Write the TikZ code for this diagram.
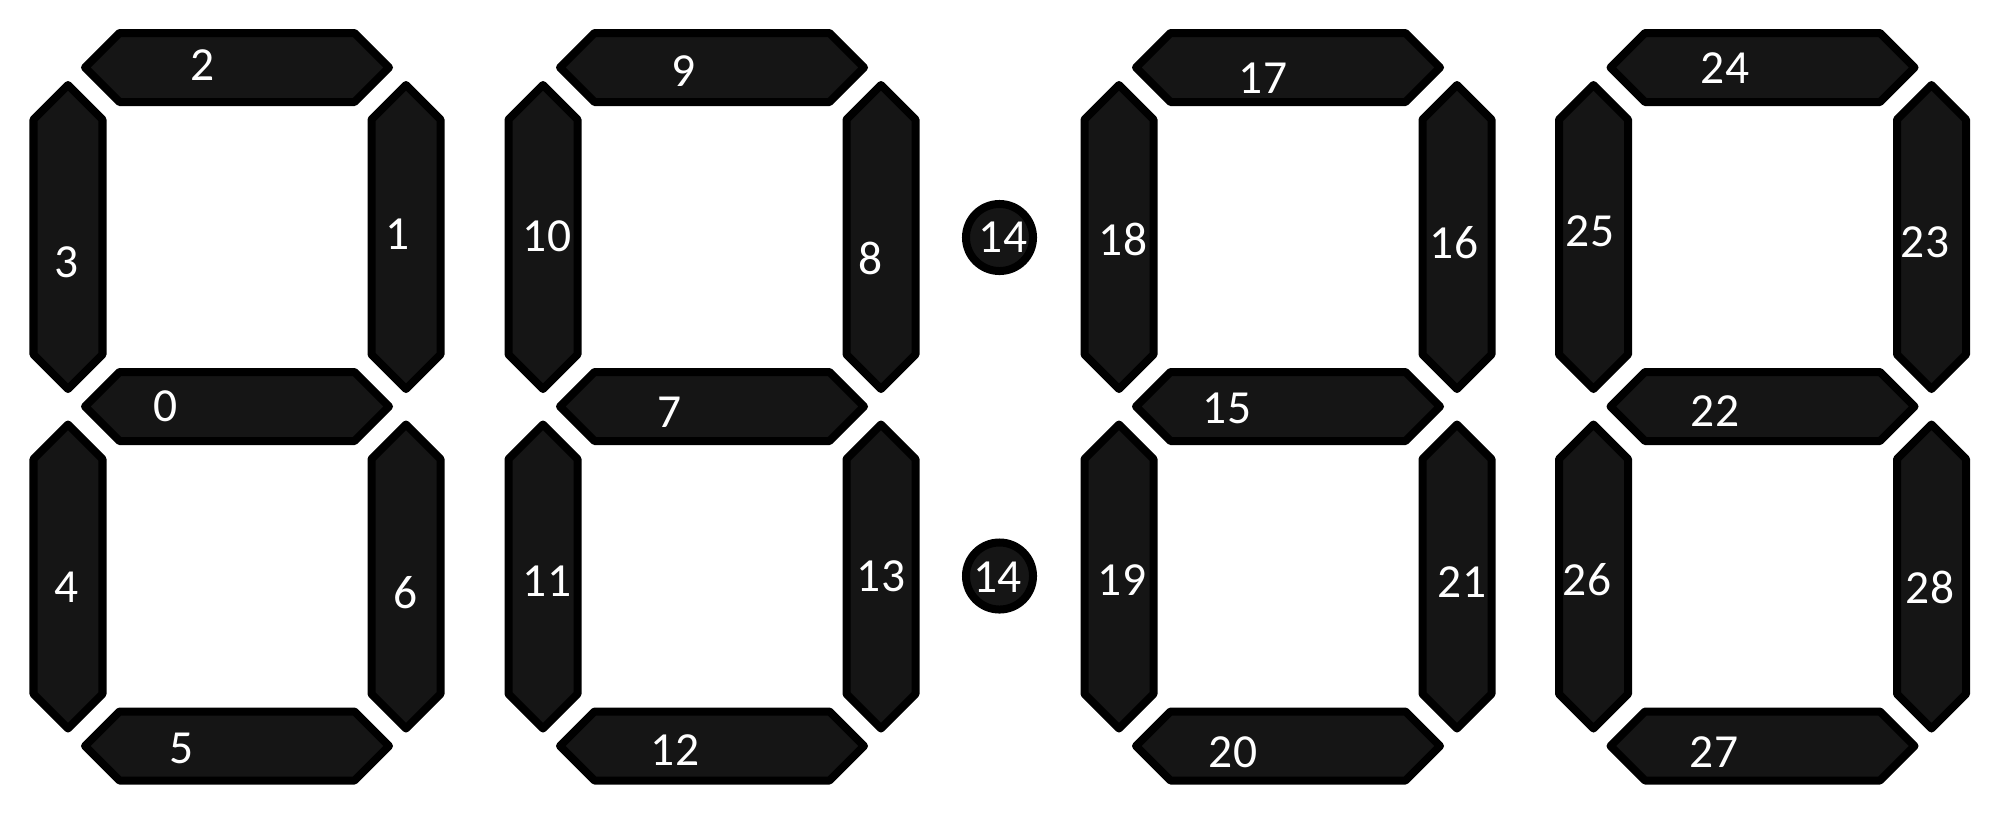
\documentclass[tikz,border=0pt]{standalone}
\usepackage{fontspec}
\setmainfont{Carlito}
\definecolor{segfill}{HTML}{151515}
\tikzset{
  seg/.style={draw=black, fill=segfill, line width=0.08cm, line join=round},
  dotc/.style={circle, draw=black, fill=segfill, line width=0.08cm, minimum size=0.67cm, inner sep=0pt},
  lab/.style={text=white, anchor=base, inner sep=0pt, font=\fontsize{13.5}{16}\selectfont},
  hseg/.pic={\path[seg] (-152,0) -- (-117.5,-34.5) -- (117.5,-34.5) -- (152,0) -- (117.5,34.5) -- (-117.5,34.5) -- cycle;},
  vseg/.pic={\path[seg] (0,-152) -- (34.5,-117.5) -- (34.5,117.5) -- (0,152) -- (-34.5,117.5) -- (-34.5,-117.5) -- cycle;},
}
\begin{document}
\begin{tikzpicture}[x=0.01cm,y=-0.01cm]
\path[use as bounding box, fill=white] (0,0) rectangle (2000,814);
\foreach \cx in {237,712,1288,1762.5}{
  \pic at (\cx,67.5) {hseg};
  \pic at (\cx,406.5) {hseg};
  \pic at (\cx,746) {hseg};
  \pic at (\cx-169,237) {vseg};
  \pic at (\cx+169,237) {vseg};
  \pic at (\cx-169,576.5) {vseg};
  \pic at (\cx+169,576.5) {vseg};
}
\node[dotc] (dotA) at (999.5,237.5) {};
\node[dotc] (dotB) at (999.5,576) {};
% digit 1
\node[lab] (n2) at (203,80) {2};
\node[lab] (n3) at (67,277) {3};
\node[lab] (n1) at (398,249) {1};
\node[lab] (n0) at (166,421) {0};
\node[lab] (n4) at (67,602) {4};
\node[lab] (n6) at (406,608) {6};
\node[lab] (n5) at (182,763) {5};
% digit 2
\node[lab] (n9) at (684,86) {9};
\node[lab] (n10) at (547,251) {10};
\node[lab] (n8) at (871,274) {8};
\node[lab] (n7) at (670,427) {7};
\node[lab] (n11) at (547,596) {11};
\node[lab] (n13) at (881,591) {13};
\node[lab] (n12) at (675,765) {12};
% colon
\node[lab] (n14a) at (1003,252) {14};
\node[lab] (n14b) at (997.5,592) {14};
% digit 3
\node[lab] (n17) at (1263,93) {17};
\node[lab] (n18) at (1123,255) {18};
\node[lab] (n16) at (1454,258) {16};
\node[lab] (n15) at (1227,423) {15};
\node[lab] (n19) at (1122,595) {19};
\node[lab] (n21) at (1462,597) {21};
\node[lab] (n20) at (1233,767) {20};
% digit 4
\node[lab] (n24) at (1725,83) {24};
\node[lab] (n25) at (1590,246) {25};
\node[lab] (n23) at (1925,257) {23};
\node[lab] (n22) at (1715,426) {22};
\node[lab] (n26) at (1587,595) {26};
\node[lab] (n28) at (1930,603) {28};
\node[lab] (n27) at (1714,767) {27};
\end{tikzpicture}
\end{document}
